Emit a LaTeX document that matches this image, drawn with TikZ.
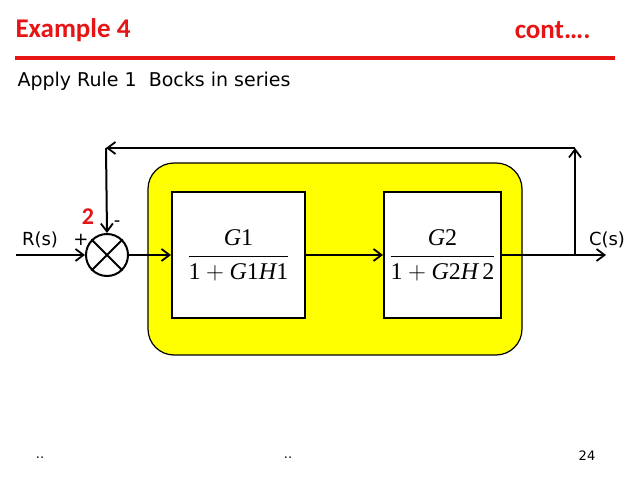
\documentclass[tikz,border=0pt]{standalone}
\usepackage{fontspec}
\setmainfont{Carlito}
\newfontfamily\verd{DejaVu Sans}
\newfontfamily\tms{Liberation Serif}
\usetikzlibrary{arrows.meta}
\definecolor{tred}{RGB}{230,20,20}
\definecolor{yel}{RGB}{255,255,0}
\newcommand{\ivar}[1]{\hbox{\tms\itshape #1}}
\newcommand{\rnum}[1]{\hbox{\tms #1}}
\begin{document}
\begin{tikzpicture}[x=1pt,y=-1pt,
  ln/.style={line width=2pt},
  ar/.style={ln,-{Straight Barb[length=8pt,width=12pt,line width=1.8pt]}},
  blk/.style={draw,line width=2pt,fill=white,minimum width=133pt,minimum height=126pt,anchor=north west,font=\tms\fontsize{24}{28}\selectfont},
  lbl/.style={font=\verd\fontsize{18}{20}\selectfont}]
\useasboundingbox (0,0) rectangle (638,478);
\node[anchor=west,text=tred,font=\bfseries\fontsize{27}{30}\selectfont] (t) at (12,30) {Example 4};
\node[anchor=east,text=tred,font=\bfseries\fontsize{27}{30}\selectfont] (c) at (594,30) {cont….};
\draw[tred,line width=3.5pt] (15,58) -- (615,58);
\node[anchor=west,lbl,font=\verd\fontsize{19}{22}\selectfont] (ap) at (14,81) {Apply Rule 1\ \ Bocks in series};
\draw[fill=yel,line width=1.2pt,rounded corners=26pt] (148,163) rectangle (522,355);
\node[blk] (b1) at (171,191) {$\displaystyle\frac{\ivar{G}\rnum{1}}{\rnum{1}+\ivar{G}\rnum{1}\ivar{H}\rnum{1}}$};
\node[blk,minimum width=117pt] (b2) at (383,191) {$\displaystyle\frac{\ivar{G}\rnum{2}}{\rnum{1}+\ivar{G}\rnum{2}\ivar{H}\,\rnum{2}}$};
\node[draw,circle,line width=2pt,minimum size=42pt,inner sep=0] (s) at (107,255) {};
\draw[line width=2pt] (s.north west) -- (s.south east) (s.north east) -- (s.south west);
\coordinate (in) at (16,255);
\coordinate (o) at (606,255);
\coordinate (fr) at (575,255);
\coordinate (tr) at (575,148);
\coordinate (tl) at (106,148);
\draw[ar] (in) -- (s.west);
\draw[ar] (s.east) -- (b1.west |- s.east);
\draw[ar] (b1.east |- s) -- (b2.west |- s);
\draw[ar] (b2.east |- s) -- (o);
\draw[ar] (fr) -- (tr);
\draw[ar] (tr) -- (tl);
\draw[ar] (tl) -- (s.north);
\node[lbl] (r) at (40,240) {R(s)};
\node[lbl] (cs) at (607,240) {C(s)};
\node[lbl] (p) at (81,240) {+};
\node[lbl] (m) at (117,224) {-};
\node[text=tred,font=\bfseries\fontsize{24}{26}\selectfont] (two) at (88,217) {2};
\node[lbl,font=\verd\fontsize{13}{15}\selectfont] (d1) at (40,458) {..};
\node[lbl,font=\verd\fontsize{13}{15}\selectfont] (d2) at (288,458) {..};
\node[lbl,font=\verd\fontsize{13}{15}\selectfont] (n) at (587,456) {24};
\end{tikzpicture}
\end{document}
